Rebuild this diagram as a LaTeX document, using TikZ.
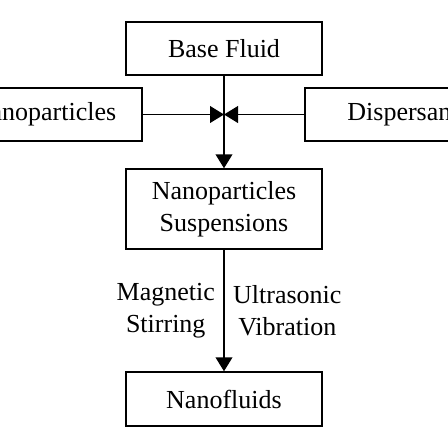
\documentclass[tikz,border=0pt]{standalone}
\usepackage{fontspec}
\setmainfont{Liberation Serif}
\usetikzlibrary{arrows.meta}

\begin{document}
\begin{tikzpicture}[
        box/.style={draw, line width=1pt, minimum width=4.9cm, align=center, inner sep=0pt},
        flow/.style={-{Triangle[length=3.5mm,width=4.2mm]}, line width=1pt},
        every node/.style={font=\fontsize{18.5}{23}\selectfont}]
        \useasboundingbox (0, 0) rectangle (11.2, -11.2);
        \clip (0, 0) rectangle (11.2, -11.2);
        \node [box, minimum height=1.325cm] (BF) at (5.6, -1.2125) {Base Fluid}; 
        \node [box, minimum height=1.325cm] (NP) at (1.1, -2.8625) {Nanoparticles}; 
        \node [box, minimum height=1.325cm] (DS) at (10.075, -2.8625) {Dispersant}; 
        \node [box, minimum height=2cm] (NS) at (5.6, -5.225) {Nanoparticles\\Suspensions}; 
        \node [box, minimum height=1.35cm] (NF) at (5.6, -9.975) {Nanofluids}; 
        \coordinate (J) at (5.6, -2.8625); 
        \draw [line width=1pt] (BF) -- (J); 
        \draw [flow] (J) -- (NS); 
        \draw [flow] (NP) -- (J); 
        \draw [flow] (DS) -- (J); 
        \draw [flow] (NS) -- node [left, align=center, inner sep=6pt] {Magnetic\\Stirring} 
                node [right, align=center, inner sep=6pt] {Ultrasonic\\Vibration} (NF); 
\end{tikzpicture}
\end{document}
